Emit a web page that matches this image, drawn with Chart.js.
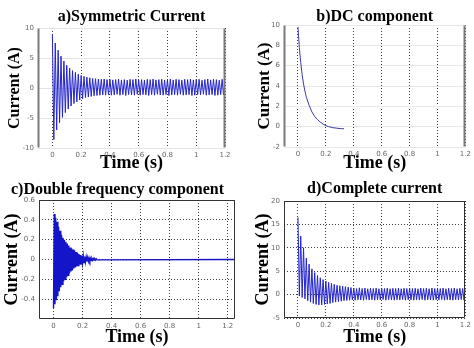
<!DOCTYPE html>
<html>
<head>
<meta charset="utf-8">
<script src="https://cdn.jsdelivr.net/npm/chart.js@4"></script>
<style>
html, body { margin: 0; padding: 0; background: #fff; }
#wrap { position: relative; width: 474px; height: 348px; overflow: hidden; }
canvas { position: absolute; }
</style>
</head>
<body>
<div id="wrap">
  <canvas id="symChart" width="237" height="174" style="left:0;top:0"></canvas>
  <canvas id="dcChart" width="237" height="174" style="left:237px;top:0"></canvas>
  <canvas id="dblChart" width="237" height="174" style="left:0;top:174px"></canvas>
  <canvas id="fullChart" width="237" height="174" style="left:237px;top:174px"></canvas>
</div>
<script>
// sampling interval of the oscillating traces (s)
const symStep = 0.01;
const dblStep = 0.005;

const timeTicks = [0, 0.2, 0.4, 0.6, 0.8, 1, 1.2];
const symTicks = [-10, -5, 0, 5, 10];
const dcTicks = [-2, 0, 2, 4, 6, 8, 10];
const dblTicks = [-0.4, -0.2, 0, 0.2, 0.4, 0.6];
const fullTicks = [-5, 0, 5, 10, 15, 20];

// a) symmetric current, one value per half cycle
const symCurrent = [
  8.9, -8.6, 7.5, -7.0, 6.3, -5.8, 5.3, -4.9, 4.5, -4.1,
  3.8, -3.5, 3.3, -3.0, 2.9, -2.6, 2.6, -2.3, 2.3, -2.0,
  2.1, -1.8, 1.95, -1.6, 1.8, -1.5, 1.7, -1.4, 1.6, -1.3,
  1.55, -1.25, 1.5, -1.2, 1.45, -1.15, 1.5, -1.2, 1.4, -1.1,
  1.45, -1.2, 1.35, -1.15, 1.4, -1.05, 1.5, -1.2, 1.35, -1.1,
  1.4, -1.25, 1.3, -1.1, 1.45, -1.15, 1.4, -1.2, 1.5, -1.05,
  1.35, -1.2, 1.4, -1.1, 1.3, -1.15, 1.45, -1.25, 1.4, -1.1,
  1.5, -1.2, 1.35, -1.05, 1.4, -1.15, 1.45, -1.2, 1.3, -1.1,
  1.4, -1.25, 1.5, -1.15, 1.35, -1.1, 1.45, -1.2, 1.4, -1.05,
  1.3, -1.2, 1.45, -1.15, 1.4, -1.1, 1.5, -1.25, 1.35, -1.2,
  1.4, -1.1, 1.45, -1.15, 1.3, -1.05, 1.4, -1.2, 1.5, -1.15,
  1.35, -1.1, 1.45, -1.25, 1.4, -1.2, 1.3, -1.1, 1.45, -1.15,
  1.4
];

// b) DC component
const dcTime = [0, 0.01, 0.02, 0.03, 0.04, 0.05, 0.06, 0.08, 0.1, 0.12, 0.14, 0.16, 0.18, 0.2, 0.22, 0.25, 0.28, 0.31, 0.33];
const dcValues = [9.8, 7.8, 6.3, 5.1, 4.2, 3.5, 2.9, 2.1, 1.45, 1.0, 0.7, 0.45, 0.25, 0.1, 0.0, -0.1, -0.15, -0.2, -0.2];

// c) double frequency component, one value per half cycle, then settled
const dblFreq = [
  -0.49, 0.46, -0.45, 0.42, -0.41, 0.38, -0.37, 0.33, -0.32, 0.29,
  -0.28, 0.25, -0.25, 0.22, -0.22, 0.2, -0.2, 0.18, -0.18, 0.16,
  -0.16, 0.14, -0.14, 0.12, -0.12, 0.11, -0.11, 0.1, -0.09, 0.09,
  -0.08, 0.075, -0.07, 0.065, -0.06, 0.055, -0.05, 0.045, -0.045, 0.04,
  -0.035, 0.035, -0.03, 0.03, -0.025, 0.025, -0.02, 0.02, -0.018, 0.016,
  -0.014, 0.012, -0.01, 0.01, -0.008, 0.008, -0.006, 0.006, -0.005, 0.005,
  -0.004
];
const dblTailTime = 1.25;
const dblTailValue = 0;

// d) complete current, one value per half cycle
const fullCurrent = [
  16.5, -0.3, 12.5, -0.6, 10.0, -0.9, 7.8, -1.3, 6.5, -1.6,
  5.5, -1.9, 4.7, -2.1, 4.1, -2.2, 3.6, -2.2, 3.2, -2.1,
  2.9, -2.0, 2.6, -1.9, 2.4, -1.7, 2.2, -1.6, 2.0, -1.5,
  1.9, -1.4, 1.8, -1.3, 1.7, -1.25, 1.6, -1.2, 1.5, -1.15,
  1.4, -1.2, 1.3, -1.1, 1.45, -1.15, 1.3, -1.2, 1.4, -1.05,
  1.25, -1.15, 1.35, -1.1, 1.3, -1.2, 1.4, -1.1, 1.25, -1.15,
  1.35, -1.05, 1.3, -1.2, 1.4, -1.1, 1.25, -1.15, 1.35, -1.2,
  1.3, -1.1, 1.4, -1.15, 1.25, -1.05, 1.35, -1.2, 1.3, -1.1,
  1.4, -1.15, 1.3, -1.2, 1.35, -1.1, 1.25, -1.15, 1.4, -1.05,
  1.3, -1.2, 1.35, -1.1, 1.25, -1.15, 1.4, -1.2, 1.3, -1.1,
  1.35, -1.15, 1.3, -1.05, 1.4, -1.2, 1.25, -1.1, 1.35, -1.15,
  1.3, -1.2, 1.4, -1.1, 1.25, -1.15, 1.35, -1.05, 1.3, -1.2,
  1.35
];

const sampled = (vals, step) => vals.map((v, i) => ({ x: i * step, y: v }));

// draws the axes box lines around the plot area
const framePlugin = {
  id: 'frame',
  afterDatasetsDraw(chart, args, opts) {
    const { ctx, chartArea: a } = chart;
    const l = Math.round(a.left) + 0.5, r = Math.round(a.right) - 0.5;
    const t = Math.round(a.top) + 0.5, b = Math.round(a.bottom) - 0.5;
    ctx.save();
    ctx.strokeStyle = opts.color;
    ctx.lineWidth = opts.width;
    ctx.beginPath();
    if (opts.left) { ctx.moveTo(l, t); ctx.lineTo(l, b); }
    if (opts.right) { ctx.moveTo(r, t); ctx.lineTo(r, b); }
    if (opts.top) { ctx.moveTo(l, t); ctx.lineTo(r, t); }
    if (opts.bottom) { ctx.moveTo(l, b); ctx.lineTo(r, b); }
    ctx.stroke();
    ctx.restore();
  }
};

const tickFont = { family: 'DejaVu Sans', size: 7 };
const serif = 'Liberation Serif';

function makePanel(id, o) {
  new Chart(document.getElementById(id), {
    type: 'line',
    data: {
      datasets: [{
        data: o.points,
        borderColor: o.lineColor,
        borderWidth: o.lineWidth,
        pointRadius: 0,
        tension: 0,
        fill: false
      }]
    },
    options: {
      responsive: false,
      animation: false,
      events: [],
      layout: { padding: { left: 0, right: 237 - o.box.right, top: 0, bottom: 0 } },
      plugins: {
        legend: { display: false },
        tooltip: { enabled: false },
        title: {
          display: true,
          text: o.title,
          fullSize: o.titleFull,
          color: '#000',
          font: { family: serif, size: 16, weight: 'bold', lineHeight: 1 },
          padding: { top: o.titleTop, bottom: o.box.top - 16 - o.titleTop }
        },
        frame: o.frame
      },
      scales: {
        x: {
          type: 'linear',
          min: o.xMin,
          max: o.xMax,
          afterFit: s => { s.height = 174 - o.box.bottom; },
          afterBuildTicks: s => { s.ticks = timeTicks.map(v => ({ value: v })); },
          ticks: { font: tickFont, color: '#666', padding: 3, autoSkip: false, maxRotation: 0, callback: v => String(v) },
          grid: { color: '#3a3a3a', drawTicks: false },
          border: { display: false, dash: [1, 2] },
          title: {
            display: true, text: 'Time (s)', color: '#000',
            font: { family: serif, size: 18, weight: 'bold' },
            padding: { top: 0, bottom: 0 }
          }
        },
        y: {
          min: o.yMin,
          max: o.yMax,
          afterFit: s => { s.width = o.box.left; },
          afterBuildTicks: s => { s.ticks = o.yTicks.map(v => ({ value: v })); },
          ticks: { font: tickFont, color: '#666', padding: 4, autoSkip: false, callback: v => String(v) },
          grid: { color: o.yGridColor, drawTicks: false },
          border: { display: false, dash: o.yGridDash },
          title: {
            display: true, text: 'Current (A)', color: '#000',
            font: { family: serif, size: o.yTitleSize, weight: 'bold' },
            padding: { top: o.yTitlePad, bottom: 0 }
          }
        }
      }
    },
    plugins: [framePlugin]
  });
}

const sideLines = { color: '#7a7a7a', width: 2, left: true, right: true, top: false, bottom: false };
const fullBox = { color: '#333', width: 1, left: true, right: true, top: true, bottom: true };

makePanel('symChart', {
  title: 'a)Symmetric Current', titleFull: false, titleTop: 9,
  points: sampled(symCurrent, symStep), lineColor: '#2424cc', lineWidth: 1,
  box: { left: 38, right: 225, top: 28, bottom: 148 },
  xMin: -0.1, xMax: 1.2, yMin: -10, yMax: 10, yTicks: symTicks,
  yGridColor: '#e4e4e4', yGridDash: [], yTitleSize: 16, yTitlePad: 5,
  frame: sideLines
});

makePanel('dcChart', {
  title: 'b)DC component', titleFull: false, titleTop: 9,
  points: dcTime.map((t, i) => ({ x: t, y: dcValues[i] })), lineColor: '#3c3ca8', lineWidth: 1,
  box: { left: 47, right: 233, top: 25, bottom: 147 },
  xMin: -0.1, xMax: 1.2, yMin: -2, yMax: 10, yTicks: dcTicks,
  yGridColor: '#e8e8e8', yGridDash: [], yTitleSize: 17, yTitlePad: 17,
  frame: sideLines
});

makePanel('dblChart', {
  title: 'c)Double frequency component', titleFull: true, titleTop: 8,
  points: sampled(dblFreq, dblStep).concat([{ x: dblTailTime, y: dblTailValue }]), lineColor: '#1414c8', lineWidth: 1.4,
  box: { left: 39, right: 235, top: 26, bottom: 145 },
  xMin: -0.1, xMax: 1.25, yMin: -0.6, yMax: 0.6, yTicks: dblTicks,
  yGridColor: '#3a3a3a', yGridDash: [1, 2], yTitleSize: 18, yTitlePad: 2,
  frame: fullBox
});

makePanel('fullChart', {
  title: 'd)Complete current', titleFull: false, titleTop: 7,
  points: sampled(fullCurrent, symStep), lineColor: '#2424cc', lineWidth: 1,
  box: { left: 47, right: 233, top: 27, bottom: 144 },
  xMin: -0.1, xMax: 1.2, yMin: -5, yMax: 20, yTicks: fullTicks,
  yGridColor: '#3a3a3a', yGridDash: [1, 2], yTitleSize: 18, yTitlePad: 16,
  frame: fullBox
});
</script>
</body>
</html>
